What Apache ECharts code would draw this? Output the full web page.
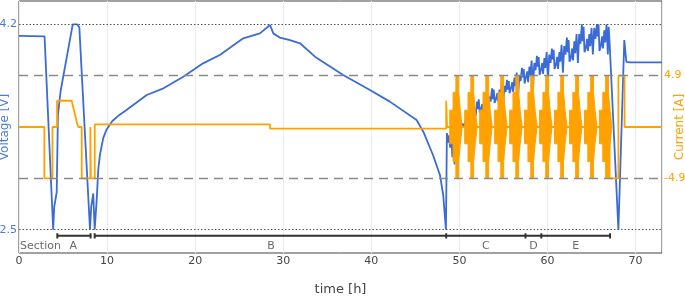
<!DOCTYPE html>
<html>
<head>
<meta charset="utf-8">
<script src="https://cdn.jsdelivr.net/npm/echarts@6/dist/echarts.min.js"></script>
<style>
  html, body { margin: 0; padding: 0; background: #fff; }
  #chart { width: 685px; height: 300px; }
</style>
</head>
<body>
<div id="chart"></div>
<script>
// cell voltage [h, V]
const voltage = [
  [0, 4.105], [2.9, 4.1], [3.88, 2.5], [4.0, 2.69], [4.28, 2.81], [4.42, 3.45], [4.73, 3.65],
  [6.1, 4.2], [6.6, 4.2], [6.85, 4.175], [7.04, 4.167], [8.06, 2.5], [8.2, 2.69], [8.43, 2.8],
  [8.59, 2.5], [8.82, 2.745], [9.0, 3.0], [9.19, 3.12], [9.57, 3.26], [9.95, 3.33], [10.6, 3.4],
  [11.4, 3.45], [12.2, 3.49], [14.5, 3.615], [16.4, 3.67], [18.65, 3.766], [20.9, 3.877],
  [22.8, 3.946], [25.46, 4.084], [27.35, 4.125], [28.5, 4.194], [28.87, 4.125], [29.6, 4.09],
  [30.76, 4.07], [31.9, 4.043], [33.6, 3.932], [36.8, 3.78], [39.84, 3.656], [42.1, 3.56],
  [45.14, 3.408], [45.9, 3.311], [47.0, 3.118], [47.8, 2.95], [48.16, 2.787], [48.47, 2.5],
  // pulse sections C-E
  [48.58, 3.3], [48.7, 3.22], [48.8, 3.28], [48.95, 3.18], [49.1, 3.26], [49.2, 3.1], [49.35, 3.22],
  [49.45, 3.04], [49.55, 3.2], [49.65, 3.3], [49.75, 2.92], [49.85, 3.2], [49.95, 3.34], [50.1, 3.3],
  [50.3, 3.38], [50.5, 3.35], [50.65, 3.4],
  [50.8, 3.37], [50.95, 3.42], [51.05, 3.33], [51.2, 3.45], [51.3, 3.36], [51.45, 3.52], [51.55, 3.3],
  [51.7, 3.5], [51.85, 3.44], [52.0, 3.56], [52.1, 3.5], [52.2, 3.58], [52.3, 3.47],
  [52.45, 3.5], [52.6, 3.54], [52.7, 3.46], [52.85, 3.57], [52.95, 3.5], [53.1, 3.62], [53.25, 3.42],
  [53.4, 3.6], [53.55, 3.56], [53.7, 3.67], [53.8, 3.58], [53.9, 3.66], [54.0, 3.55],
  [54.15, 3.58], [54.3, 3.63], [54.4, 3.56], [54.55, 3.66], [54.65, 3.6], [54.8, 3.71], [54.95, 3.5],
  [55.1, 3.69], [55.25, 3.64], [55.4, 3.74], [55.5, 3.66], [55.6, 3.73], [55.7, 3.63],
  [55.85, 3.67], [56.0, 3.72], [56.1, 3.64], [56.25, 3.76], [56.35, 3.69], [56.5, 3.8], [56.65, 3.58],
  [56.8, 3.78], [56.95, 3.73], [57.1, 3.84], [57.2, 3.76], [57.3, 3.83], [57.4, 3.71],
  [57.55, 3.76], [57.7, 3.81], [57.8, 3.72], [57.95, 3.85], [58.05, 3.77], [58.2, 3.9], [58.35, 3.66],
  [58.5, 3.88], [58.65, 3.82], [58.8, 3.94], [58.9, 3.85], [59.0, 3.93], [59.1, 3.78],
  [59.25, 3.82], [59.4, 3.88], [59.5, 3.79], [59.65, 3.92], [59.75, 3.84], [59.9, 3.97], [60.05, 3.74],
  [60.2, 3.95], [60.35, 3.88], [60.5, 4.0], [60.6, 3.91], [60.7, 3.99], [60.8, 3.83],
  [60.95, 3.86], [61.1, 3.93], [61.2, 3.83], [61.35, 3.97], [61.45, 3.89], [61.6, 4.03], [61.75, 3.8],
  [61.9, 4.02], [62.05, 3.95], [62.2, 4.09], [62.3, 3.97], [62.4, 4.07], [62.5, 3.89],
  [62.65, 3.92], [62.8, 4.0], [62.9, 3.9], [63.05, 4.06], [63.15, 3.96], [63.3, 4.12], [63.45, 3.88],
  [63.6, 4.12], [63.75, 4.04], [63.9, 4.2], [64.0, 4.06], [64.1, 4.18], [64.2, 3.97],
  [64.35, 4.0], [64.5, 4.08], [64.6, 3.98], [64.75, 4.12], [64.85, 4.02], [65.0, 4.17], [65.15, 3.95],
  [65.3, 4.17], [65.45, 4.08], [65.6, 4.2], [65.7, 4.1], [65.8, 4.2], [65.9, 3.98],
  [66.05, 4.02], [66.2, 4.1], [66.3, 4.0], [66.45, 4.15], [66.55, 4.05], [66.7, 4.2], [66.85, 3.95],
  [66.95, 4.18], [67.05, 4.05],
  [68.05, 2.5], [68.72, 4.07], [68.95, 3.89], [69.3, 3.886], [73, 3.885]
];

// cell current [h, A], outside the pulse trains
const current = [
  [0, 0], [2.88, 0], [2.88, -4.9], [3.8, -4.9], [3.8, 0], [4.32, 0], [4.32, 2.5], [5.98, 2.5],
  [6.55, 0.5], [6.73, 0], [7.12, 0], [7.12, -4.9], [8.1, -4.9], [8.1, 0], [8.16, 0], [8.16, -4.9],
  [8.6, -4.9], [8.6, 0.25], [28.5, 0.25], [28.5, -0.15], [48.5, -0.15], [48.5, 2.5], [48.6, 2.5],
  [48.6, 0], [67.05, 0], [67.05, -4.9], [68.05, -4.9], [68.05, 4.9], [68.75, 4.9], [68.75, 0], [73, 0]
];

// pulse trains: centre of each train and the staircase of levels around it
const cycleCenters = [49.8, 51.5, 53.2, 54.9, 56.6, 58.3, 60.0, 61.7, 63.4, 65.1, 66.8];
const pulseLevels = [1.6, 3.3, 4.9];
const pulseFrom = [-0.9, -0.52, -0.2];
const pulseTo = [0.52, 0.3, 0.12];

const sectionNames = ['A', 'B', 'C', 'D', 'E'];
const sectionFrom = [4.35, 8.59, 48.5, 57.5, 59.3];
const sectionTo = [8.13, 48.5, 57.5, 59.3, 67.1];
const sectionLabelAt = [6.17, 28.6, 53.0, 58.4, 63.2];

const voltageTicks = [2.5, 4.2];
const currentTicks = [-4.9, 4.9];
const timeTicks = [0, 10, 20, 30, 40, 50, 60, 70];

const BLUE = '#3b6bd6';
const BLUE_TEXT = '#4a7bdc';
const ORANGE = '#ffa200';
const FONT = 'DejaVu Sans';

function pulseEnvelope(sign) {
  const pts = [];
  cycleCenters.forEach(tc => {
    for (let k = 0; k < pulseLevels.length; k++) {
      const prev = k ? pulseLevels[k - 1] : 0;
      pts.push([tc + pulseFrom[k], sign * prev]);
      pts.push([tc + pulseFrom[k], sign * pulseLevels[k]]);
    }
    for (let k = pulseLevels.length - 1; k >= 0; k--) {
      const prev = k ? pulseLevels[k - 1] : 0;
      pts.push([tc + pulseTo[k], sign * pulseLevels[k]]);
      pts.push([tc + pulseTo[k], sign * prev]);
    }
  });
  return pts;
}

const BRACKET_Y = 2.449;
const BRACKET_TICK = 0.022;
const LABEL_Y = 2.365;

const bracketData = [];
sectionNames.forEach((name, i) => {
  const a = sectionFrom[i], b = sectionTo[i];
  bracketData.push([a, BRACKET_Y + BRACKET_TICK], [a, BRACKET_Y - BRACKET_TICK], [a, BRACKET_Y],
    [b, BRACKET_Y], [b, BRACKET_Y + BRACKET_TICK], [b, BRACKET_Y - BRACKET_TICK], [b, '-']);
});

const labelData = [[2.44, LABEL_Y, 'Section']].concat(
  sectionNames.map((name, i) => [sectionLabelAt[i], LABEL_Y, name])
);

const chart = echarts.init(document.getElementById('chart'), null, { renderer: 'canvas' });
chart.setOption({
  animation: false,
  backgroundColor: '#fff',
  textStyle: { fontFamily: FONT },
  grid: {
    left: 19, right: 23, top: 1, bottom: 47,
    show: true, borderColor: '#444', borderWidth: 1, backgroundColor: '#fff',
    outerBoundsMode: 'none'
  },
  xAxis: {
    type: 'value', min: 0, max: 73, interval: 10,
    name: 'time [h]', nameLocation: 'middle', nameGap: 30, nameMoveOverlap: false,
    nameTextStyle: { color: '#444', fontSize: 13, fontFamily: FONT },
    axisLine: { show: false },
    axisTick: { show: false },
    axisLabel: { customValues: timeTicks, color: '#444', fontSize: 11, margin: 3, fontFamily: FONT },
    splitLine: { show: true, lineStyle: { color: '#ebebeb', width: 1 } }
  },
  yAxis: [
    {
      type: 'value', min: 2.307, max: 4.393, position: 'left',
      name: 'Voltage [V]', nameLocation: 'middle', nameRotate: 90, nameGap: 8, nameMoveOverlap: false,
      nameTextStyle: { color: BLUE_TEXT, fontSize: 12, fontFamily: FONT },
      axisLine: { show: false },
      axisTick: { show: false },
      axisLabel: {
        customValues: voltageTicks, color: BLUE_TEXT, fontSize: 11, margin: 2, fontFamily: FONT,
        formatter: v => v.toFixed(1)
      },
      splitLine: { show: false }
    },
    {
      type: 'value', min: -12, max: 12, position: 'right',
      name: 'Current [A]', nameLocation: 'middle', nameRotate: 90, nameGap: 12, nameMoveOverlap: false,
      nameTextStyle: { color: ORANGE, fontSize: 12, fontFamily: FONT },
      axisLine: { show: false },
      axisTick: { show: false },
      axisLabel: {
        customValues: currentTicks, color: ORANGE, fontSize: 11, margin: 2, fontFamily: FONT,
        formatter: v => v.toFixed(1)
      },
      splitLine: { show: false }
    }
  ],
  series: [
    {
      name: 'Voltage', type: 'line', yAxisIndex: 0, data: voltage,
      showSymbol: false, z: 2,
      lineStyle: { color: BLUE, width: 1.8 },
      markLine: {
        silent: true, symbol: ['none', 'none'], label: { show: false },
        lineStyle: { color: '#555', type: [1.5, 2], width: 1 },
        data: voltageTicks.map(v => ({ yAxis: v }))
      }
    },
    {
      name: 'Current', type: 'line', yAxisIndex: 1, data: current,
      showSymbol: false, z: 3,
      lineStyle: { color: ORANGE, width: 1.8 },
      markLine: {
        silent: true, symbol: ['none', 'none'], label: { show: false },
        lineStyle: { color: '#8a8a8a', type: [9, 6], width: 1.3 },
        data: currentTicks.map(v => ({ yAxis: v }))
      }
    },
    {
      name: 'Pulses +', type: 'line', yAxisIndex: 1, data: pulseEnvelope(1),
      showSymbol: false, z: 3,
      lineStyle: { color: ORANGE, width: 1 },
      areaStyle: { color: ORANGE, opacity: 1, origin: 0 }
    },
    {
      name: 'Pulses -', type: 'line', yAxisIndex: 1, data: pulseEnvelope(-1),
      showSymbol: false, z: 3,
      lineStyle: { color: ORANGE, width: 1 },
      areaStyle: { color: ORANGE, opacity: 1, origin: 0 }
    },
    {
      name: 'Sections', type: 'line', yAxisIndex: 0, data: bracketData,
      showSymbol: false, connectNulls: false, z: 4,
      lineStyle: { color: '#333', width: 2 }
    },
    {
      name: 'Section labels', type: 'scatter', yAxisIndex: 0, data: labelData,
      symbolSize: 0, z: 4,
      label: {
        show: true, position: 'inside', color: '#444', fontSize: 11, fontFamily: FONT,
        formatter: p => p.data[2]
      }
    }
  ]
});
</script>
</body>
</html>
